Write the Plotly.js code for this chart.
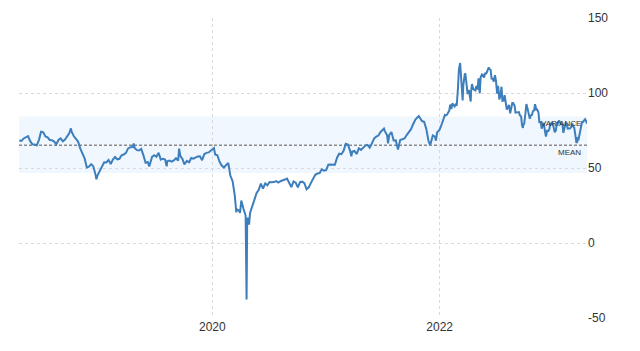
<!DOCTYPE html>
<html>
<head>
<meta charset="utf-8">
<script src="https://cdn.plot.ly/plotly-3.0.1.min.js"></script>
<style>
  html, body { margin: 0; padding: 0; background: #ffffff; }
  #chart { width: 640px; height: 351px; }
</style>
</head>
<body>
<div id="chart"></div>
<script>
// Weekly (Friday) closes, each year starting at its first listed Friday
const start2018 = '2018-04-20';
const wti2018 = [68.4, 68.1, 69.7, 70.7, 71.3, 67.9, 65.8, 65.7, 65.1, 68.6, 74.2, 73.8, 71.0, 70.5, 68.7, 68.5, 67.6, 65.9, 68.7, 69.8, 67.8, 69.0, 70.8, 73.3, 74.3, 71.3, 69.1, 67.6, 63.1, 60.2, 56.5, 50.4, 50.9, 52.6, 51.2, 45.6, 45.3];
const start2019 = '2019-01-04';
const wti2019 = [48.0, 51.6, 53.8, 53.7, 55.3, 52.7, 55.6, 57.3, 55.8, 56.1, 58.5, 59.0, 60.1, 63.1, 63.9, 64.0, 63.3, 61.9, 61.7, 62.8, 58.6, 53.5, 54.0, 52.5, 57.4, 58.5, 57.5, 60.2, 55.6, 56.2, 55.7, 54.5, 54.9, 54.2, 55.1, 56.5, 54.9, 58.1, 55.9, 52.8, 54.7, 53.8, 56.7, 56.2, 57.2, 57.7, 57.8, 55.2, 59.2, 60.1, 60.4, 61.7];
const start2020 = '2020-01-03';
const wti2020 = [63.05, 59.0, 58.5, 54.2, 51.6, 50.3, 52.05, 53.4, 44.8, 41.3, 31.7, 22.4, 21.5, 28.3, 22.8, 18.3, 16.9, 19.8, 24.7, 29.4, 33.25, 35.5, 39.6, 36.3, 39.75, 38.5, 40.65, 40.55, 40.6, 41.3, 40.3, 41.2, 42.0, 42.3, 42.97, 39.8, 37.3, 41.1, 40.25, 37.05, 40.6, 40.9, 39.85, 35.8, 37.1, 40.1, 42.4, 45.5, 46.3, 46.6, 49.1, 48.2];
const start2021 = '2021-01-01';
const wti2021 = [48.5, 52.2, 52.4, 52.3, 52.2, 56.85, 59.5, 59.2, 61.5, 66.1, 65.6, 61.4, 60.97, 61.45, 59.3, 63.1, 62.1, 63.6, 64.9, 65.4, 63.6, 66.3, 69.6, 70.9, 71.6, 74.05, 75.2, 74.6, 71.8, 72.1, 73.95, 68.3, 68.4, 62.3, 68.7, 69.3, 69.7, 71.97, 73.98, 75.9, 79.35, 82.3, 83.8, 83.6, 81.3, 80.8, 76.1, 68.15, 66.3, 71.7, 70.9, 73.8, 75.2];
const start2022 = '2022-01-07';
const wti2022 = [78.9, 83.8, 85.1, 86.8, 92.3, 93.1, 91.1, 91.6, 115.7, 109.3, 104.7, 112.5, 99.3, 98.3, 106.0, 102.1, 104.7, 109.8, 110.5, 112.0, 113.0, 114.5, 116.0, 109.6, 107.6, 108.4, 104.8, 97.6, 94.7, 98.6, 89.0, 92.1, 90.8, 93.06, 86.9, 86.8, 85.1, 78.7, 79.5, 92.6, 85.6, 85.05, 87.9, 92.6, 88.96, 80.1, 76.3, 80.0, 71.0, 74.3, 79.6, 80.3];
const start2023 = '2023-01-06';
const wti2023 = [73.8, 79.9, 81.6, 79.7, 73.4, 79.7, 76.3, 76.3, 79.7, 76.7, 66.7, 69.3, 75.7, 80.7, 82.5];

// Mid-week (Tuesday) closes for the volatile 2022-2023 stretch
const midStart2022 = '2022-01-04';
const mid2022 = [77.0, 81.2, 85.4, 85.6, 88.2, 89.4, 92.1, 92.4, 103.4, 120.0, 96.4, 111.8, 104.2, 102.0, 100.6, 102.6, 101.7, 102.4, 99.8, 112.4, 110.3, 113.0, 116.5, 115.5, 109.5, 111.8, 99.5, 95.8, 104.2, 95.0, 94.4, 90.5, 86.5, 93.7, 91.6, 86.9, 87.3, 84.5, 78.5, 86.5, 89.4, 82.8, 85.3, 88.4, 88.9, 86.9, 81.0, 78.2, 74.3, 75.4, 76.1, 79.5];
const midStart2023 = '2023-01-03';
const mid2023 = [76.9, 75.1, 80.2, 80.1, 78.9, 77.1, 79.1, 76.4, 77.1, 77.6, 71.3, 69.7, 73.2, 80.7, 81.5, 80.9];

// Individual days with visible spikes
const extraDates = ['2018-10-03', '2018-12-24', '2019-04-23', '2019-06-12', '2019-08-07', '2019-09-16', '2019-10-03', '2020-01-06', '2020-03-18', '2020-03-30', '2020-04-02', '2020-04-20', '2020-04-21', '2020-04-22', '2020-04-28', '2021-03-23', '2021-07-06', '2021-07-19', '2021-10-26', '2021-12-01', '2021-12-20', '2022-03-16', '2022-03-23', '2022-04-11', '2022-06-08', '2022-09-26', '2023-03-17', '2023-03-20', '2023-04-20'];
const extraValues = [76.4, 42.5, 66.3, 51.1, 51.1, 62.9, 52.45, 63.3, 20.4, 20.1, 25.3, -37.6, 10.0, 13.8, 12.3, 57.8, 76.3, 66.4, 84.65, 65.6, 68.2, 95.0, 113.0, 94.3, 117.0, 76.7, 66.7, 67.6, 79.5];

// Statistics shown on the chart
const meanValue = 65.1;
const bandLow = 46.7;
const bandHigh = 84.4;

const xTickVals = ['2020-01-01', '2022-01-01'];
const xTickText = ['2020', '2022'];
const yTickVals = [-50, 0, 50, 100, 150];
const yTickText = ['-50', '0', '50', '100', '150'];

function weekly(startDate, values) {
  const d0 = new Date(startDate + 'T00:00:00Z');
  return values.map((v, i) => {
    const d = new Date(d0.getTime() + i * 7 * 86400000);
    return [d.toISOString().slice(0, 10), v];
  });
}

let pts = [].concat(
  weekly(start2018, wti2018), weekly(start2019, wti2019), weekly(start2020, wti2020),
  weekly(start2021, wti2021), weekly(start2022, wti2022), weekly(start2023, wti2023),
  weekly(midStart2022, mid2022), weekly(midStart2023, mid2023),
  extraDates.map((d, i) => [d, extraValues[i]])
);
// one value per day
const byDay = {};
pts.forEach(p => { if (!(p[0] in byDay)) byDay[p[0]] = p[1]; });
pts = Object.keys(byDay).sort().map(k => [k, byDay[k]]);

const fontFam = '"Liberation Sans Narrow", "Arial Narrow", "Liberation Sans", sans-serif';

const trace = {
  x: pts.map(p => p[0]),
  y: pts.map(p => p[1]),
  type: 'scatter',
  mode: 'lines',
  line: { color: '#3d7ebc', width: 2 },
  hoverinfo: 'skip',
  showlegend: false
};

const layout = {
  width: 640,
  height: 351,
  margin: { l: 19, r: 53, t: 18, b: 33, pad: 0 },
  paper_bgcolor: '#ffffff',
  plot_bgcolor: '#ffffff',
  showlegend: false,
  xaxis: {
    type: 'date',
    range: ['2018-04-19', '2023-04-20'],
    tickmode: 'array',
    tickvals: xTickVals,
    ticktext: xTickText,
    showgrid: true,
    gridcolor: '#d9d9d9',
    griddash: 'dot',
    gridwidth: 1,
    zeroline: false,
    showline: false,
    ticks: '',
    tickfont: { family: fontFam, size: 12, color: '#333333' },
    fixedrange: true
  },
  yaxis: {
    side: 'right',
    range: [-50, 150],
    tickmode: 'array',
    tickvals: yTickVals,
    ticktext: yTickText,
    showgrid: true,
    gridcolor: '#d9d9d9',
    griddash: 'dot',
    gridwidth: 1,
    zeroline: false,
    showline: false,
    ticks: '',
    tickfont: { family: fontFam, size: 12, color: '#333333' },
    fixedrange: true
  },
  shapes: [
    { type: 'rect', xref: 'paper', yref: 'y', x0: 0, x1: 1, y0: bandLow, y1: bandHigh,
      fillcolor: '#f0f7fe', line: { width: 0 }, layer: 'below' },
    { type: 'line', xref: 'paper', yref: 'y', x0: 0, x1: 1, y0: meanValue, y1: meanValue,
      line: { color: '#8a8a8a', width: 1.5, dash: '3px,2px' }, layer: 'below' }
  ],
  annotations: [
    { xref: 'paper', yref: 'y', x: 0.993, y: bandHigh - 4.9, text: 'VARIANCE', showarrow: false,
      xanchor: 'right', yanchor: 'middle', font: { family: fontFam, size: 8, color: '#333333' } },
    { xref: 'paper', yref: 'y', x: 0.993, y: meanValue - 4.7, text: 'MEAN', showarrow: false,
      xanchor: 'right', yanchor: 'middle', font: { family: fontFam, size: 8, color: '#333333' } }
  ]
};

Plotly.newPlot('chart', [trace], layout, { displayModeBar: false, staticPlot: true });
</script>
</body>
</html>
